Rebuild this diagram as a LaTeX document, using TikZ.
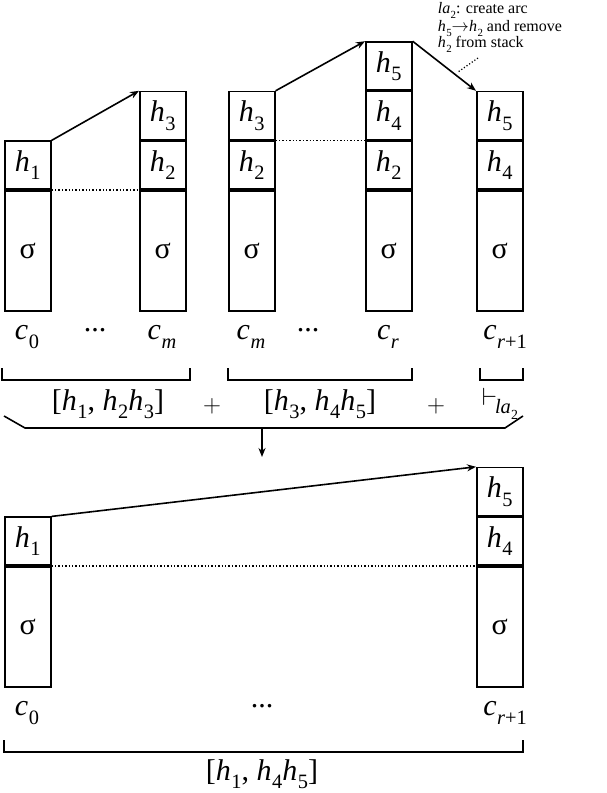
\documentclass[tikz,border=0pt]{standalone}
\usetikzlibrary{arrows.meta}
\usepackage{fontspec}
\setmainfont{Liberation Serif}
\usepackage{graphicx}
\newcommand\vv[2]{\textit{#1}\kern0.5pt\raisebox{-0.28em}{\scalebox{0.68}{#2}}}
\newcommand\vi[2]{\textit{#1}\kern0.5pt\raisebox{-0.28em}{\scalebox{0.68}{\textit{#2}}}}
\begin{document}
\begin{tikzpicture}[x=1pt,y=-1pt,line width=1.6pt,
  cell/.style={draw,minimum width=46pt,inner sep=0pt,font=\fontsize{30}{30}\selectfont},
  hc/.style={cell,minimum height=48pt},
  sc/.style={cell,minimum height=120pt},
  lab/.style={font=\fontsize{30}{30}\selectfont,inner sep=0pt},
  arr/.style={-{Stealth[length=9pt,width=7pt]}},
  dot/.style={dotted,line width=1.4pt}]
\useasboundingbox (0,0) rectangle (607,793);
% column 1
\node[sc,anchor=north west] (s1) at (4,190) {σ};
\node[hc,anchor=south] (a1) at (s1.north) {\vv{h}{1}};
% column 2
\node[sc,anchor=north west] (s2) at (139,190) {σ};
\node[hc,anchor=south] (b2) at (s2.north) {\vv{h}{2}};
\node[hc,anchor=south] (b3) at (b2.north) {\vv{h}{3}};
% column 3
\node[sc,anchor=north west] (s3) at (228,190) {σ};
\node[hc,anchor=south] (c2) at (s3.north) {\vv{h}{2}};
\node[hc,anchor=south] (c3) at (c2.north) {\vv{h}{3}};
% column 4
\node[sc,anchor=north west] (s4) at (365,190) {σ};
\node[hc,anchor=south] (d2) at (s4.north) {\vv{h}{2}};
\node[hc,anchor=south] (d4) at (d2.north) {\vv{h}{4}};
\node[hc,anchor=south] (d5) at (d4.north) {\vv{h}{5}};
% column 5
\node[sc,anchor=north west] (s5) at (476,190) {σ};
\node[hc,anchor=south] (e4) at (s5.north) {\vv{h}{4}};
\node[hc,anchor=south] (e5) at (e4.north) {\vv{h}{5}};
% arcs
\draw[arr] (a1.north east) -- (b3.north west);
\draw[arr] (c3.north east) -- (d5.north west);
\draw[arr] (d5.north east) -- (e5.north west);
\draw[dot] (a1.south east) -- (b2.south west);
\draw[dot] (c3.south east) -- (d4.south west);
% annotation
\node[anchor=north west,align=left,inner sep=0pt,font=\fontsize{16}{17}\selectfont] (ann) at (437,2)
 {\vv{la}{2}: create arc\\[1pt] \vv{h}{5}$\to$\vv{h}{2} and remove\\[-1pt] \vv{h}{2} from stack};
\coordinate (annp) at (478,58);
\coordinate (annq) at (458,72);
\draw[dot,line width=1.2pt] (annp) -- (annq);
% labels
\node[lab] (l1) at (27,337) {\vv{c}{0}};
\node[lab] (l2) at (95,330) {...};
\node[lab] (l3) at (162,337) {\vi{c}{m}};
\node[lab] (l4) at (251,337) {\vi{c}{m}};
\node[lab] (l5) at (308,330) {...};
\node[lab] (l6) at (388,337) {\vi{c}{r}};
\node[lab] (l7) at (505,337) {\vi{c}{r\upshape+1}};
% brackets
\draw (2,368) -- (2,380) -- (190,380) -- (190,368);
\draw (228,368) -- (228,380) -- (412,380) -- (412,368);
\draw (480,368) -- (480,380) -- (523,380) -- (523,368);
\node[lab] (t1) at (108,404) {[\vv{h}{1}, \vv{h}{2}\vv{h}{3}]};
\node[lab] (p1) at (212,406) {$+$};
\node[lab] (t2) at (320,404) {[\vv{h}{3}, \vv{h}{4}\vv{h}{5}]};
\node[lab] (p2) at (436,406) {$+$};
\node[lab] (t3) at (500,404) {$\vdash$\kern-2pt\raisebox{-0.28em}{\scalebox{0.68}{\vv{la}{2}}}};
\draw (4,416) -- (25,428) -- (505,428) -- (523,416);
\coordinate (bs) at (262,428);
\coordinate (be) at (262,457);
\draw[arr] (bs) -- (be);
% bottom
\node[sc,anchor=north west] (S1) at (4,566) {σ};
\node[hc,anchor=south] (A1) at (S1.north) {\vv{h}{1}};
\node[sc,anchor=north west] (S2) at (476,566) {σ};
\node[hc,anchor=south] (B4) at (S2.north) {\vv{h}{4}};
\node[hc,anchor=south] (B5) at (B4.north) {\vv{h}{5}};
\draw[arr] (A1.north east) -- (B5.north west);
\draw[dot] (A1.south east) -- (B4.south west);
\node[lab] (L1) at (27,713) {\vv{c}{0}};
\node[lab] (L2) at (262,706) {...};
\node[lab] (L3) at (505,713) {\vi{c}{r\upshape+1}};
\draw (4,740) -- (4,752) -- (523,752) -- (523,740);
\node[lab] (T) at (262,774) {[\vv{h}{1}, \vv{h}{4}\vv{h}{5}]};
\end{tikzpicture}
\end{document}
